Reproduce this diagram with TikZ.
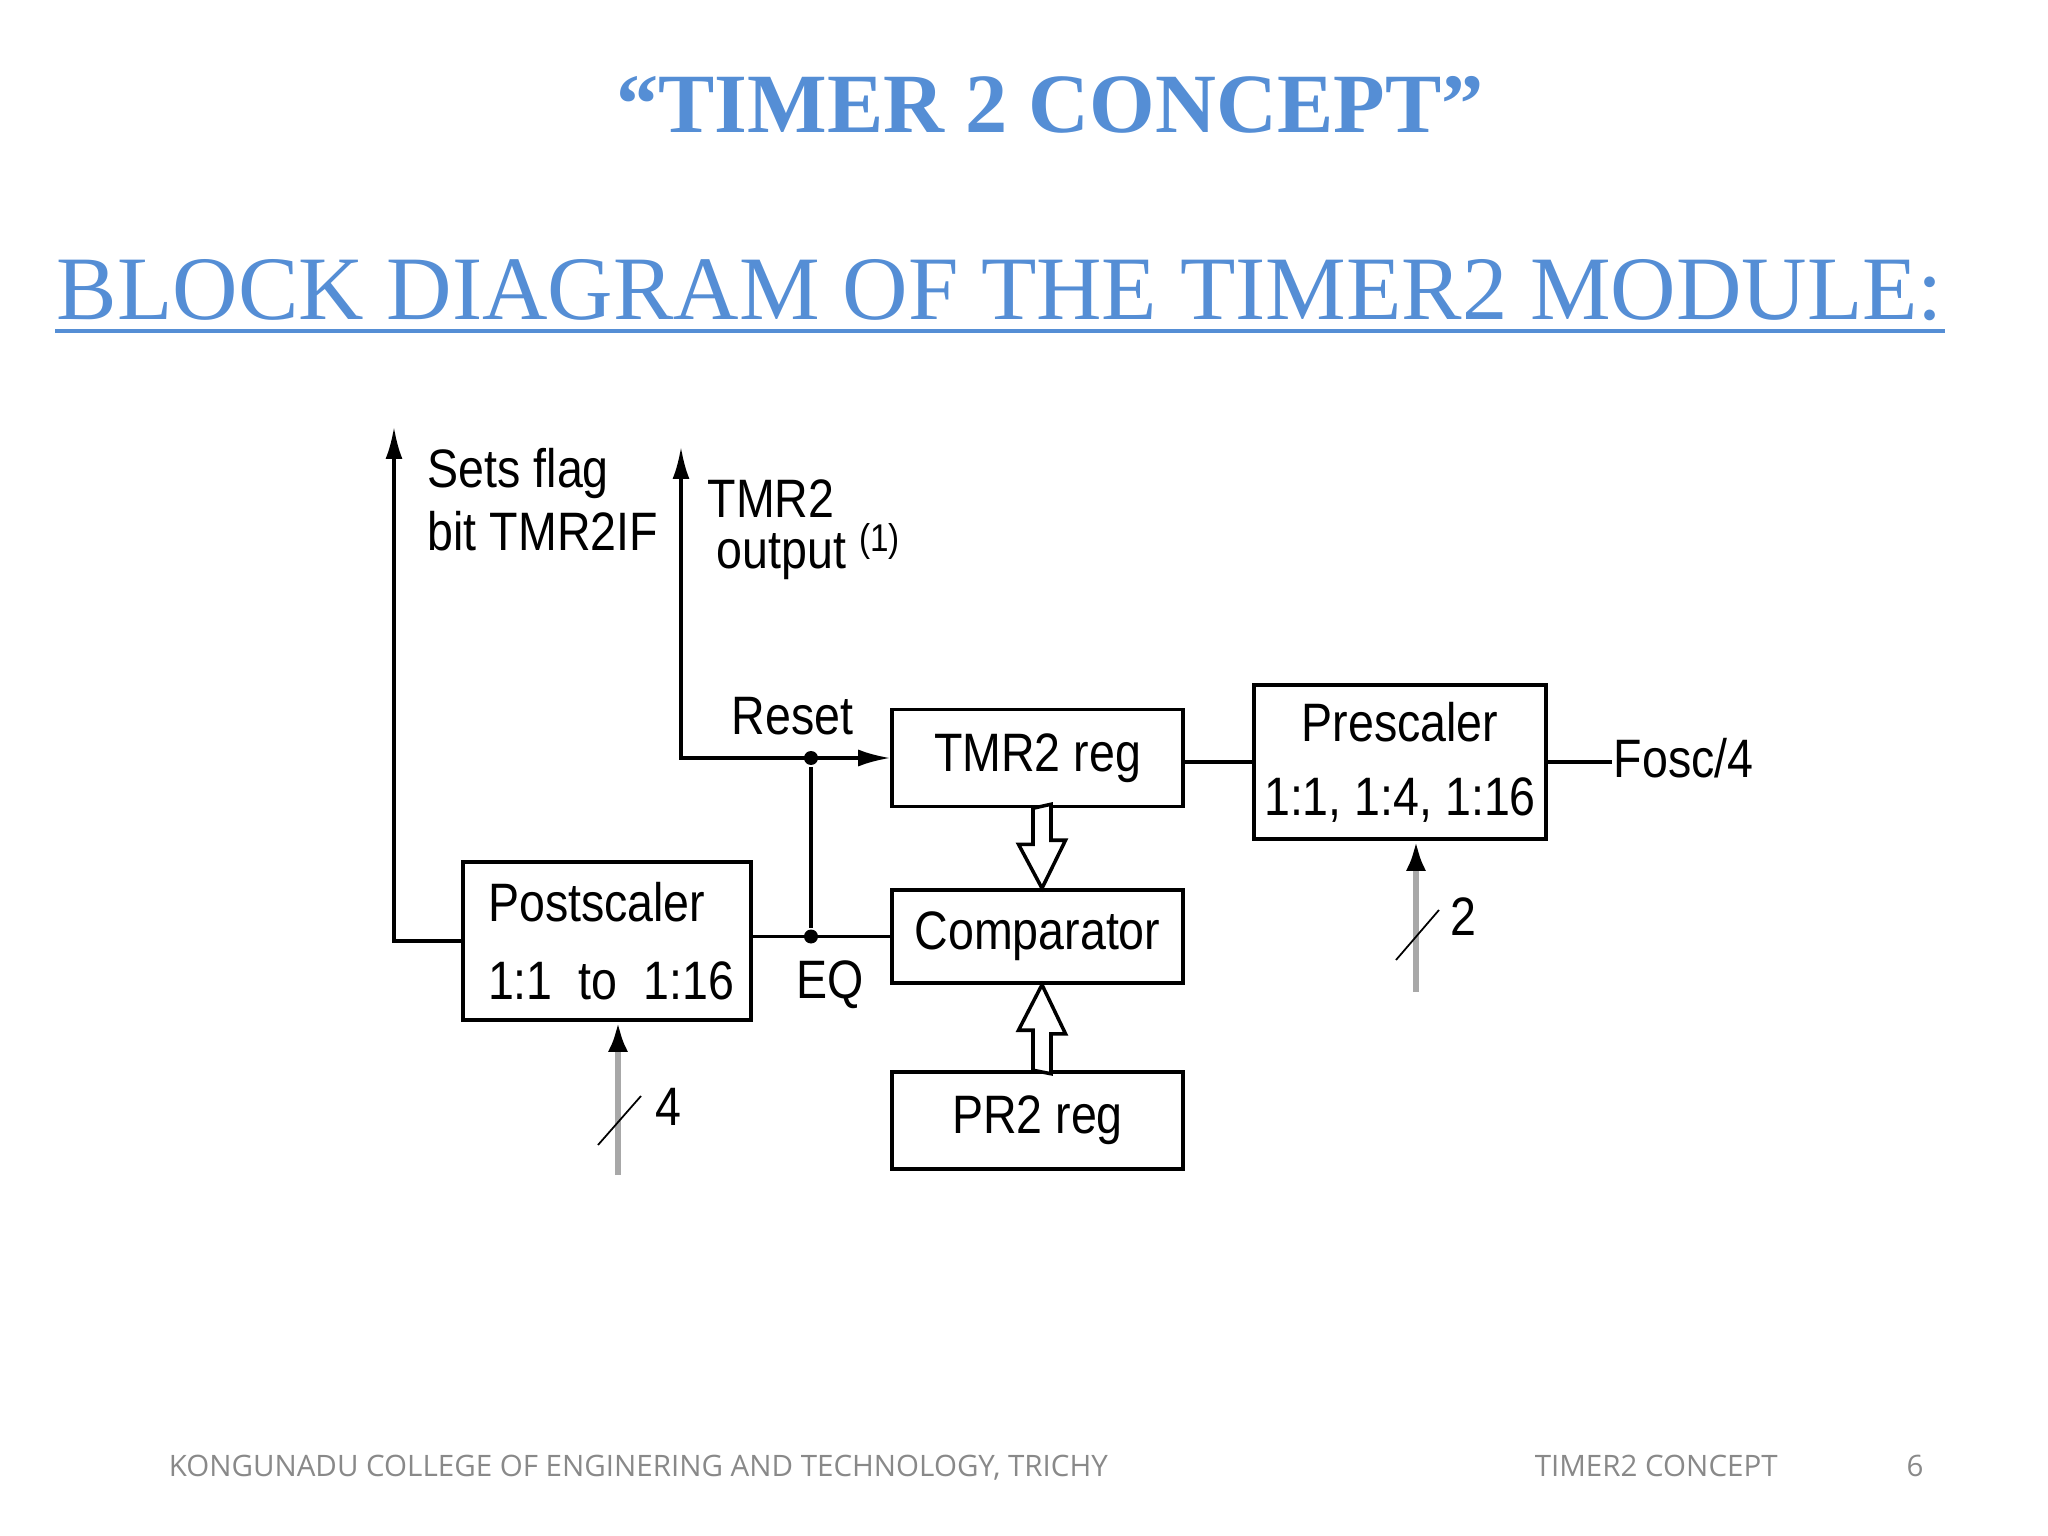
\documentclass[tikz,border=0pt]{standalone}
\usepackage{fontspec}
\setmainfont{Liberation Serif}
\newfontfamily\diagfont[FakeStretch=0.86]{Liberation Sans}
\newfontfamily\footfont{Open Sans}
\usetikzlibrary{arrows.meta}
\definecolor{slideblue}{RGB}{85,142,213}
\definecolor{footgray}{RGB}{137,137,137}
\definecolor{busgray}{RGB}{168,168,168}

\begin{document}
\begin{tikzpicture}[>={Latex[length=3.2mm,width=1.7mm]}, line width=1pt,
    block/.style={draw, minimum width=2.91cm, inner sep=0pt, font=\diagfont\fontsize{15.4}{17.9}\selectfont},
    lbl/.style={inner sep=0pt, font=\diagfont\fontsize{15.4}{17.9}\selectfont},
    bus/.style={busgray, line width=1.8pt, -{Latex[black,length=3mm,width=2mm]}},
    dot/.style={circle, fill, inner sep=0pt, minimum size=0.14cm},
    hollow/.style={draw, fill=white, line width=1pt, line join=miter},
    foot/.style={inner sep=0pt, anchor=base west, text=footgray, font=\footfont\fontsize{8.4}{10}\selectfont}]

    \useasboundingbox (0,0) rectangle (20.48,-15.36);

    % Headings
    \node[inner sep=0pt, anchor=base, text=slideblue, font=\bfseries\fontsize{24}{28}\selectfont] (title) at (10.50,-1.33) {“TIMER 2 CONCEPT”};
    \node[inner sep=0pt, anchor=base west, text=slideblue, font=\fontsize{25.8}{30}\selectfont] (sub) at (0.55,-3.20) {BLOCK DIAGRAM OF THE TIMER2 MODULE:};
    \draw[slideblue, line width=1.1pt] ([yshift=-0.11cm]sub.base west) -- ([yshift=-0.11cm]sub.base east);

    % Blocks
    \node[block, minimum height=0.97cm] (tmr) at (10.375,-7.58) {TMR2 reg};
    \node[block, minimum height=0.93cm] (cmp) at (10.375,-9.365) {Comparator};
    \node[block, minimum height=0.97cm] (pr) at (10.375,-11.205) {PR2 reg};
    \node[block, minimum width=2.92cm, minimum height=1.54cm, align=center] (pre) at (14.00,-7.62) {Prescaler\\[3.1pt]1:1, 1:4, 1:16};
    \node[block, minimum width=2.88cm, minimum height=1.58cm, align=left] (post) at (6.07,-9.41) {\hspace{0.08cm}Postscaler\\[4.2pt]\hspace{0.08cm}1:1~~to~~1:16};

    % Labels
    \node[lbl, anchor=north west, align=left] (flag) at (4.26,-4.47) {Sets flag\\bit TMR2IF};
    \node[lbl, anchor=north west, align=left] (out) at (7.06,-4.78) {TMR2\\[-3.3pt]\hspace{0.09cm}output \raisebox{4.8pt}{\fontsize{11}{11}\selectfont(1)}};
    \node[lbl, anchor=base west] (reset) at (7.30,-7.35) {Reset};
    \node[lbl, anchor=base west] (eq) at (7.95,-9.98) {EQ};
    \node[lbl, anchor=base west] (fosc) at (16.12,-7.78) {Fosc/4};
    \node[lbl] (nfour) at (6.68,-11.07) {4};
    \node[lbl] (ntwo) at (14.63,-9.17) {2};

    \coordinate (flagtop) at (3.94,-4.27);
    \coordinate (outtop) at (6.81,-4.47);
    \coordinate (jx) at (8.11,0);
    \coordinate (ax) at (10.42,0);
    \coordinate (busA) at (6.18,-11.75);
    \coordinate (busB) at (14.16,-9.92);

    % Connectors
    \draw (tmr.east |- pre.west) -- (pre.west);
    \draw (pre.east) -- (pre.east -| fosc.west);
    \draw[->] (post.west) -| (flagtop);
    \draw[<->] (outtop) |- (tmr.west);
    \draw (post.east |- cmp.west) -- (cmp.west);
    \node[dot] (jreset) at (jx |- tmr.west) {};
    \node[dot] (jeq) at (jx |- cmp.west) {};
    \draw (jreset) -- (jeq);

    % Hollow arrows into the comparator
    \draw[hollow] (ax |- tmr.south) ++(-0.09,0) -- ++(0,-0.36) -- ++(-0.145,0) -- (ax |- cmp.north)
        -- ++(0.235,0.48) -- ++(-0.145,0) -- ++(0,0.36) -- cycle;
    \draw[hollow] (ax |- pr.north) ++(-0.09,0) -- ++(0,0.40) -- ++(-0.145,0) -- (ax |- cmp.south)
        -- ++(0.235,-0.49) -- ++(-0.145,0) -- ++(0,-0.40) -- cycle;

    % Bus inputs
    \draw[bus] (busA) -- (busA |- post.south);
    \draw[line width=0.5pt] (busA) ++(-0.20,0.30) -- ++(0.43,0.49);
    \draw[bus] (busB) -- (busB |- pre.south);
    \draw[line width=0.5pt] (busB) ++(-0.20,0.32) -- ++(0.43,0.50);

    % Footer
    \node[foot] (college) at (1.67,-14.76) {KONGUNADU COLLEGE OF ENGINERING AND TECHNOLOGY, TRICHY};
    \node[foot] (foottitle) at (15.33,-14.76) {TIMER2 CONCEPT};
    \node[foot, anchor=base] (pagenum) at (19.15,-14.76) {6};
\end{tikzpicture}
\end{document}
